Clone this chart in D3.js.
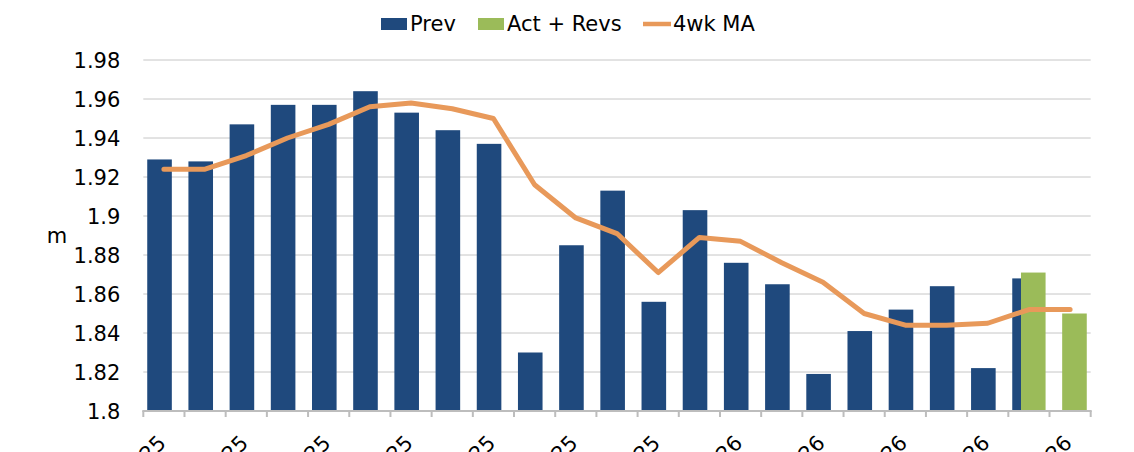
<!DOCTYPE html>
<html>
<head>
<meta charset="utf-8">
<script src="https://cdn.jsdelivr.net/npm/d3@7"></script>
<style>
  body { margin: 0; background: #fff; }
  svg text { font-family: "DejaVu Sans", Verdana, sans-serif; fill: #000; }
</style>
</head>
<body>
<svg id="chart" width="1134" height="452"></svg>
<script>
// Week ending dates (only every other one is labelled on the axis)
const weeks = ["04/10/25", "11/10/25", "18/10/25", "25/10/25", "01/11/25", "08/11/25",
  "15/11/25", "22/11/25", "29/11/25", "06/12/25", "13/12/25", "20/12/25", "27/12/25",
  "03/01/26", "10/01/26", "17/01/26", "24/01/26", "31/01/26", "07/02/26", "14/02/26",
  "21/02/26", "28/02/26", "07/03/26"];

// Series values, millions
const prev = [1.929, 1.928, 1.947, 1.957, 1.957, 1.964, 1.953, 1.944, 1.937, 1.830,
  1.885, 1.913, 1.856, 1.903, 1.876, 1.865, 1.819, 1.841, 1.852, 1.864,
  1.822, 1.868, null];
const actRevs = [null, null, null, null, null, null, null, null, null, null,
  null, null, null, null, null, null, null, null, null, null,
  null, 1.871, 1.850];
const ma4wk = [1.924, 1.924, 1.931, 1.940, 1.947, 1.956, 1.958, 1.955, 1.950, 1.916,
  1.899, 1.891, 1.871, 1.889, 1.887, 1.876, 1.866, 1.850, 1.844, 1.844,
  1.845, 1.852, 1.852];

const yTicks = [1.8, 1.82, 1.84, 1.86, 1.88, 1.9, 1.92, 1.94, 1.96, 1.98];

const colors = { prev: "#1F497D", act: "#9BBB59", ma: "#E8995A" };

const svg = d3.select("#chart");

// Plot area
const plotLeft = 143.3, plotRight = 1090.7, plotTop = 60, plotBottom = 411;

const x = d3.scaleBand()
    .domain(weeks)
    .range([plotLeft, plotRight])
    .padding(0);

const y = d3.scaleLinear()
    .domain([1.8, 1.98])
    .range([plotBottom, plotTop]);

// Gridlines
svg.append("g")
    .selectAll("line")
    .data(yTicks.slice(1))
    .enter()
    .append("line")
    .attr("x1", plotLeft)
    .attr("x2", plotRight)
    .attr("y1", d => y(d))
    .attr("y2", d => y(d))
    .attr("stroke", "#c6c6c6")
    .attr("stroke-width", 1);

// Y axis labels
const yAxis = svg.append("g")
    .attr("transform", `translate(${plotLeft},0)`)
    .call(d3.axisLeft(y).tickValues(yTicks).tickFormat(d => String(+d.toFixed(2))).tickSize(0).tickPadding(23));
yAxis.select(".domain").remove();
yAxis.selectAll("text").style("font-size", "21px").attr("dy", "0.36em");

svg.append("text")
    .attr("x", 57)
    .attr("y", 243)
    .attr("text-anchor", "middle")
    .style("font-size", "21px")
    .text("m");

// Bars: clustered with overlap
const bw = x.bandwidth() * 0.597;
const off = x.bandwidth() * 0.106;

svg.append("g")
    .selectAll("rect")
    .data(weeks.map((w, i) => ({ w, v: prev[i] })).filter(d => d.v != null))
    .enter()
    .append("rect")
    .attr("x", d => x(d.w) + x.bandwidth() / 2 - off - bw / 2)
    .attr("width", bw)
    .attr("y", d => y(d.v))
    .attr("height", d => y(1.8) - y(d.v))
    .attr("fill", colors.prev);

svg.append("g")
    .selectAll("rect")
    .data(weeks.map((w, i) => ({ w, v: actRevs[i] })).filter(d => d.v != null))
    .enter()
    .append("rect")
    .attr("x", d => x(d.w) + x.bandwidth() / 2 + off - bw / 2)
    .attr("width", bw)
    .attr("y", d => y(d.v))
    .attr("height", d => y(1.8) - y(d.v))
    .attr("fill", colors.act);

// X axis
const xAxis = svg.append("g")
    .attr("transform", `translate(0,${plotBottom})`)
    .call(d3.axisBottom(x).tickValues(weeks.filter((d, i) => i % 2 === 0)).tickSize(0));
xAxis.select(".domain").remove();
xAxis.selectAll("text")
    .style("font-size", "21px")
    .attr("text-anchor", "end")
    .attr("dy", "0.35em")
    .attr("y", 0)
    .attr("transform", "translate(-2,28) rotate(-45)");

// axis line and tick marks at category boundaries
svg.append("line")
    .attr("x1", plotLeft - 1)
    .attr("x2", plotRight + 1)
    .attr("y1", plotBottom)
    .attr("y2", plotBottom)
    .attr("stroke", "#bdbdbd")
    .attr("stroke-width", 2);

svg.append("g")
    .selectAll("line")
    .data(weeks.concat(["end"]))
    .enter()
    .append("line")
    .attr("x1", (d, i) => i < weeks.length ? x(d) : plotRight)
    .attr("x2", (d, i) => i < weeks.length ? x(d) : plotRight)
    .attr("y1", plotBottom)
    .attr("y2", plotBottom + 6)
    .attr("stroke", "#bdbdbd")
    .attr("stroke-width", 2);

// 4 week moving average
const line = d3.line()
    .x((d, i) => x(weeks[i]) + x.bandwidth() / 2)
    .y(d => y(d));

svg.append("path")
    .datum(ma4wk)
    .attr("d", line)
    .attr("fill", "none")
    .attr("stroke", colors.ma)
    .attr("stroke-width", 5)
    .attr("stroke-linejoin", "round")
    .attr("stroke-linecap", "round");

// Legend
const legend = svg.append("g");
legend.append("rect").attr("x", 381).attr("y", 18).attr("width", 26).attr("height", 12).attr("fill", colors.prev);
legend.append("text").attr("x", 410).attr("y", 31).style("font-size", "21px").text("Prev");
legend.append("rect").attr("x", 478).attr("y", 18).attr("width", 26).attr("height", 12).attr("fill", colors.act);
legend.append("text").attr("x", 507).attr("y", 31).style("font-size", "21px").text("Act + Revs");
legend.append("line").attr("x1", 643).attr("x2", 671).attr("y1", 24).attr("y2", 24)
    .attr("stroke", colors.ma).attr("stroke-width", 4.5);
legend.append("text").attr("x", 673).attr("y", 31).style("font-size", "21px").text("4wk MA");
</script>
</body>
</html>
